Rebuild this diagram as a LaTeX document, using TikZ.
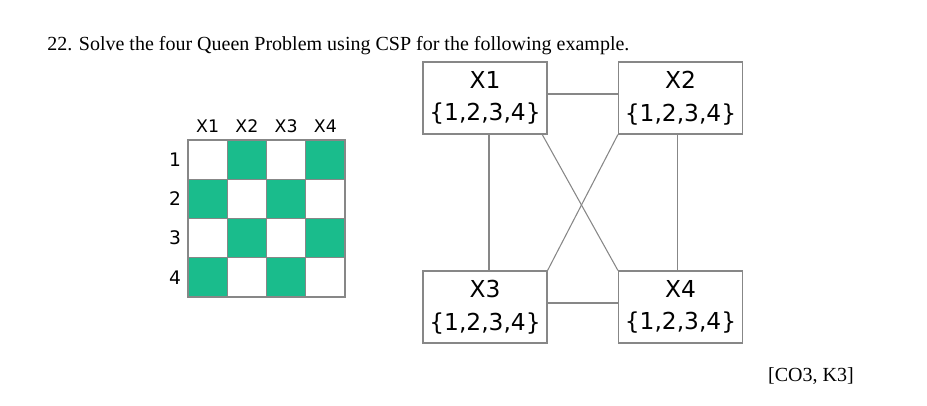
\documentclass[tikz,border=0pt]{standalone}
\usepackage{fontspec}
\setmainfont{Liberation Serif}
\newfontfamily\boxfont{DejaVu Sans}
\definecolor{queengreen}{RGB}{26,188,140}
\definecolor{edgegray}{RGB}{135,135,135}
\tikzset{
	varbox/.style={draw=edgegray, line width=0.9pt, minimum width=93pt, minimum height=54pt, inner sep=0pt, align=center, font=\boxfont\fontsize{17.5}{24.5}\selectfont},
	boardlabel/.style={inner sep=0pt, font=\boxfont\fontsize{13}{14}\selectfont},
	link/.style={draw=edgegray, line width=0.8pt}
}
\begin{document}
\begin{tikzpicture}[x=0.75pt, y=-0.75pt]
	\useasboundingbox (0,0) rectangle (927,405);
	\node (title) [anchor=west, inner sep=0pt, font=\fontsize{15}{18}\selectfont] at (47,46) {22. Solve the four Queen Problem using CSP for the following example.};
	% board
	\foreach \r in {1,...,4} {
		\foreach \c in {1,...,4} {
			\pgfmathparse{int(mod(\r+\c,2))}
			\ifnum\pgfmathresult=1
				\fill [queengreen] ({188+(\c-1)*39.25},{140+(\r-1)*39.25}) rectangle ++(39.25,39.25);
			\fi
			\draw [edgegray, line width=0.8pt] ({188+(\c-1)*39.25},{140+(\r-1)*39.25}) rectangle ++(39.25,39.25);
		}
		\node (col\r) [boardlabel] at ({168.4+\r*39.25},126) {X\r};
		\node (row\r) [boardlabel, font=\boxfont\fontsize{14}{15}\selectfont] at (175,{120.4+\r*39.25}) {\r};
	}
	% constraint graph
	\node (x1) [varbox] at (485,98) {X1\\\{1,2,3,4\}};
	\node (x2) [varbox] at (680.5,98) {X2\\\{1,2,3,4\}};
	\node (x3) [varbox] at (485,307) {X3\\\{1,2,3,4\}};
	\node (x4) [varbox] at (680.5,307) {X4\\\{1,2,3,4\}};
	\draw [link] ([yshift=3pt]x1.east) -- ([yshift=3pt]x2.west);
	\draw [link] ([yshift=3pt]x3.east) -- ([yshift=3pt]x4.west);
	\draw [link] ([xshift=3pt]x1.south) -- ([xshift=3pt]x3.north);
	\draw [link] ([xshift=-2pt]x2.south) -- ([xshift=-2pt]x4.north);
	\draw [link] ([xshift=-4pt]x1.south east) -- (x4.north west);
	\draw [link] (x2.south west) -- (x3.north east);
	\node (code) [inner sep=0pt, font=\fontsize{15}{18}\selectfont] at (811,376) {[CO3, K3]};
\end{tikzpicture}
\end{document}
